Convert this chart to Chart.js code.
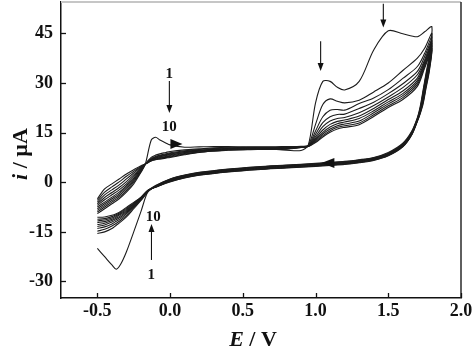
<!doctype html>
<html lang="en">
<head>
<meta charset="utf-8">
<title>Cyclic voltammogram</title>
<script src="https://cdn.jsdelivr.net/npm/chart.js"></script>
<style>
  body { margin: 0; background: #fff; }
  #wrap { width: 474px; height: 350px; }
</style>
</head>
<body>
<div id="wrap"><canvas id="cv" width="474" height="350"></canvas></div>
<script>
// potential grids (V) for the positive-going and negative-going scans
const fwdE = [-0.5, -0.45, -0.4, -0.35, -0.3, -0.25, -0.2, -0.17, -0.13, -0.1, -0.07, -0.03, 0,
  0.1, 0.2, 0.3, 0.4, 0.5, 0.6, 0.7, 0.8, 0.9, 0.95, 1.0, 1.05, 1.1, 1.15, 1.2,
  1.3, 1.4, 1.5, 1.6, 1.7, 1.75, 1.8];
const revE = [1.78, 1.76, 1.74, 1.72, 1.7, 1.66, 1.6, 1.5, 1.4, 1.3, 1.2, 1.1, 1.0, 0.8, 0.6,
  0.4, 0.2, 0.1, 0, -0.1, -0.15, -0.2, -0.25, -0.3, -0.34, -0.37, -0.4, -0.45, -0.5];

// current (uA), cycles 1..10, positive-going scan
const fwd1 = [-9.5, -8, -6.5, -5, -3, -0.5, 3, 5.5, 12.7, 13.6, 12.8, 11.9, 11.3,
  10.6, 10.7, 10.8, 10.8, 10.6, 10.3, 10.0, 9.7, 9.6, 11.2, 24, 30.5, 30.5, 28.7, 27.9,
  30.5, 40, 45.8, 44.9, 44, 45.5, 47];
const fwd2 = [-9, -7.5, -6, -4.5, -2.5, 0, 3.2, 5.5, 7.5, 8.2, 8.6, 9.0, 9.3,
  9.8, 10.1, 10.4, 10.6, 10.7, 10.7, 10.7, 10.8, 10.9, 11.2, 17.5, 23.5, 25.2, 24.5, 24,
  24.8, 27.3, 30, 33.8, 37.5, 40.5, 45];
const fwd3 = [-8.5, -7, -5.5, -4, -2, 0.4, 3.5, 5.5, 7.2, 7.8, 8.2, 8.6, 8.9,
  9.5, 9.9, 10.2, 10.4, 10.5, 10.6, 10.6, 10.7, 10.8, 11.1, 15.5, 19.8, 21.8, 22, 21.8,
  23.8, 25.5, 28, 31.4, 35, 39, 44];
const fwd4 = [-8, -6.5, -5, -3.5, -1.5, 0.8, 3.7, 5.5, 7.0, 7.6, 8.0, 8.4, 8.7,
  9.3, 9.7, 10.0, 10.3, 10.4, 10.5, 10.5, 10.6, 10.8, 11.0, 14.5, 18, 19.8, 20.5, 20.6,
  22.3, 24.2, 26.8, 29.8, 33.5, 38, 43];
const fwd5 = [-7.5, -6, -4.5, -3, -1, 1.2, 4, 5.5, 6.9, 7.4, 7.8, 8.2, 8.5,
  9.2, 9.6, 9.9, 10.2, 10.3, 10.4, 10.4, 10.5, 10.7, 11.0, 13.8, 16.8, 18.5, 19.3, 19.6,
  21, 23.2, 25.8, 28.6, 32.5, 37, 42.5];
const fwd6 = [-7, -5.3, -3.8, -2.3, -0.5, 1.7, 4.2, 5.5, 6.8, 7.3, 7.7, 8.0, 8.3,
  9.0, 9.5, 9.8, 10.1, 10.2, 10.3, 10.3, 10.4, 10.7, 10.9, 13.3, 15.8, 17.5, 18.4, 18.8,
  20, 22.3, 25, 27.6, 31.5, 36.5, 42];
const fwd7 = [-6.5, -4.6, -3.1, -1.6, 0.2, 2.2, 4.4, 5.5, 6.7, 7.2, 7.5, 7.8, 8.1,
  8.9, 9.4, 9.7, 10.0, 10.1, 10.2, 10.2, 10.3, 10.6, 10.9, 12.9, 15.1, 16.7, 17.7, 18.2,
  19.3, 21.6, 24.3, 26.8, 30.8, 36, 41.5];
const fwd8 = [-6, -3.8, -2.3, -0.8, 1, 2.8, 4.6, 5.5, 6.6, 7.0, 7.3, 7.6, 7.9,
  8.7, 9.2, 9.6, 9.9, 10.0, 10.1, 10.1, 10.2, 10.6, 10.9, 12.6, 14.6, 16.1, 17.1, 17.6,
  18.5, 21, 23.7, 26.2, 30.2, 35.5, 41];
const fwd9 = [-5.5, -3, -1.4, 0.1, 1.8, 3.3, 4.8, 5.5, 6.5, 6.9, 7.2, 7.5, 7.7,
  8.5, 9.1, 9.5, 9.8, 9.9, 10.0, 10.0, 10.1, 10.5, 10.8, 12.3, 14.1, 15.6, 16.6, 17.1,
  17.9, 20.4, 23.1, 25.6, 29.6, 35, 40.5];
const fwd10 = [-5, -2, -0.5, 1, 2.5, 3.8, 5, 5.5, 6.4, 6.8, 7.0, 7.3, 7.5,
  8.3, 9.0, 9.4, 9.7, 9.8, 9.9, 9.9, 10.0, 10.5, 10.8, 12.0, 13.7, 15.1, 16.1, 16.6,
  17.4, 19.9, 22.6, 25, 29, 34.5, 40];

// current (uA), cycles 1..10, negative-going scan
const rev1 = [38, 33, 28, 23, 19.5, 15.3, 11.8, 9.0, 7.5, 6.8, 6.3, 6.0, 5.7, 5.2, 4.7,
  4.0, 3.0, 2.2, 1.0, -1.0, -2.6, -8.8, -15, -21, -24.8, -26.3, -25, -22.5, -20];
const rev2 = [37, 32.5, 27.5, 22.5, 19.3, 15.1, 11.6, 8.8, 7.4, 6.7, 6.2, 5.9, 5.6, 5.1, 4.6,
  3.9, 2.9, 2.1, 0.9, -1.1, -2.8, -5.5, -8, -10.5, -12, -13, -14, -15, -15.5];
const rev3 = [36.5, 32, 27, 22.2, 19.1, 14.9, 11.4, 8.7, 7.3, 6.6, 6.1, 5.8, 5.5, 5.0, 4.5,
  3.8, 2.8, 2.0, 0.8, -1.2, -2.7, -5.3, -7.6, -10, -11.5, -12.4, -13.2, -14.2, -14.8];
const rev4 = [36, 31.5, 26.5, 22, 19, 14.8, 11.3, 8.6, 7.2, 6.5, 6.0, 5.7, 5.4, 4.9, 4.4,
  3.7, 2.7, 1.9, 0.7, -1.2, -2.6, -5.1, -7.3, -9.5, -11, -11.8, -12.6, -13.5, -14];
const rev5 = [35.5, 31, 26, 21.8, 18.9, 14.7, 11.2, 8.5, 7.1, 6.4, 5.9, 5.6, 5.3, 4.8, 4.3,
  3.6, 2.6, 1.8, 0.6, -1.3, -2.6, -5, -7.1, -9.1, -10.5, -11.3, -12, -12.9, -13.4];
const rev6 = [35, 30.5, 25.5, 21.6, 18.8, 14.6, 11.1, 8.4, 7.0, 6.3, 5.8, 5.5, 5.2, 4.7, 4.2,
  3.5, 2.5, 1.7, 0.5, -1.3, -2.5, -4.9, -6.9, -8.8, -10.1, -10.9, -11.6, -12.4, -12.8];
const rev7 = [34.5, 30, 25, 21.4, 18.7, 14.5, 11.0, 8.3, 6.9, 6.2, 5.7, 5.4, 5.1, 4.6, 4.1,
  3.4, 2.4, 1.6, 0.4, -1.4, -2.5, -4.8, -6.7, -8.5, -9.7, -10.5, -11.2, -11.9, -12.2];
const rev8 = [34, 29.5, 24.6, 21.2, 18.6, 14.4, 10.9, 8.2, 6.8, 6.1, 5.6, 5.3, 5.0, 4.5, 4.0,
  3.3, 2.3, 1.5, 0.3, -1.4, -2.4, -4.7, -6.5, -8.2, -9.4, -10.1, -10.8, -11.4, -11.7];
const rev9 = [33.5, 29, 24.2, 21, 18.5, 14.3, 10.8, 8.1, 6.7, 6.0, 5.5, 5.2, 4.9, 4.4, 3.9,
  3.2, 2.2, 1.4, 0.2, -1.5, -2.4, -4.6, -6.3, -7.9, -9.1, -9.8, -10.4, -11, -11.2];
const rev10 = [33, 28.5, 23.8, 20.8, 18.4, 14.2, 10.7, 8.0, 6.6, 5.9, 5.4, 5.1, 4.8, 4.3, 3.8,
  3.1, 2.1, 1.3, 0.1, -1.5, -2.3, -4.5, -6.1, -7.6, -8.8, -9.5, -10, -10.5, -10.6];

const fwdI = [fwd1, fwd2, fwd3, fwd4, fwd5, fwd6, fwd7, fwd8, fwd9, fwd10];
const revI = [rev1, rev2, rev3, rev4, rev5, rev6, rev7, rev8, rev9, rev10];

const xTicks = [-0.5, 0.0, 0.5, 1.0, 1.5, 2.0];
const yTicks = [-30, -15, 0, 15, 30, 45];

const serif = "'Liberation Serif', 'Times New Roman', serif";

const datasets = fwdI.map((f, c) => ({
  label: 'cycle ' + (c + 1),
  data: fwdE.map((e, k) => ({ x: e, y: f[k] }))
    .concat(revE.map((e, k) => ({ x: e, y: revI[c][k] }))),
  showLine: true,
  borderColor: '#1c1c1c',
  borderWidth: 1.1,
  pointRadius: 0,
  tension: 0.3
}));

function tri(ctx, x, y, dir, len, half) {
  ctx.beginPath();
  ctx.moveTo(x, y);
  ctx.lineTo(x - dir * len, y - half);
  ctx.lineTo(x - dir * len, y + half);
  ctx.closePath();
  ctx.fill();
}

function vArrow(ctx, xs, ys, e, i0, i1) {
  const x = xs.getPixelForValue(e);
  const y0 = ys.getPixelForValue(i0), y1 = ys.getPixelForValue(i1);
  const dir = y1 > y0 ? 1 : -1;
  ctx.beginPath();
  ctx.moveTo(x, y0);
  ctx.lineTo(x, y1 - dir * 6);
  ctx.stroke();
  ctx.beginPath();
  ctx.moveTo(x, y1);
  ctx.lineTo(x - 3, y1 - dir * 8);
  ctx.lineTo(x + 3, y1 - dir * 8);
  ctx.closePath();
  ctx.fill();
}

const extras = {
  id: 'extras',
  afterDraw(chart) {
    const ctx = chart.ctx, a = chart.chartArea;
    const xs = chart.scales.x, ys = chart.scales.y;
    ctx.save();
    // frame: light top edge, dark right edge
    ctx.strokeStyle = '#c6c6c6';
    ctx.lineWidth = 2;
    ctx.beginPath(); ctx.moveTo(a.left, a.top); ctx.lineTo(a.right, a.top); ctx.stroke();
    ctx.strokeStyle = '#2a2a2a';
    ctx.lineWidth = 1.5;
    ctx.beginPath(); ctx.moveTo(a.right, a.top); ctx.lineTo(a.right, a.bottom); ctx.stroke();

    // inward ticks
    ctx.strokeStyle = '#111';
    ctx.lineWidth = 1.3;
    xTicks.forEach(v => {
      const p = Math.round(xs.getPixelForValue(v)) + 0.5;
      ctx.beginPath(); ctx.moveTo(p, a.bottom); ctx.lineTo(p, a.bottom - 5); ctx.stroke();
    });
    yTicks.forEach(v => {
      const p = Math.round(ys.getPixelForValue(v)) + 0.5;
      ctx.beginPath(); ctx.moveTo(a.left, p); ctx.lineTo(a.left + 5, p); ctx.stroke();
    });

    // scan direction arrowheads on the curves
    ctx.fillStyle = '#111';
    tri(ctx, xs.getPixelForValue(0.085), ys.getPixelForValue(11.6), 1, 12, 5);
    tri(ctx, xs.getPixelForValue(1.04), ys.getPixelForValue(5.8), -1, 13, 5);

    // annotation arrows
    ctx.lineWidth = 1.1;
    vArrow(ctx, xs, ys, -0.005, 30.6, 20.9);
    vArrow(ctx, xs, ys, -0.128, -23.5, -12.6);
    vArrow(ctx, xs, ys, 1.035, 42.6, 33.6);
    vArrow(ctx, xs, ys, 1.466, 54, 46.8);

    // cycle labels
    ctx.font = 'bold 15px ' + serif;
    ctx.textAlign = 'center';
    ctx.textBaseline = 'alphabetic';
    ctx.fillText('1', xs.getPixelForValue(-0.005), ys.getPixelForValue(31.6));
    ctx.fillText('10', xs.getPixelForValue(-0.005), ys.getPixelForValue(15.6));
    ctx.fillText('10', xs.getPixelForValue(-0.115), ys.getPixelForValue(-11.6));
    ctx.fillText('1', xs.getPixelForValue(-0.13), ys.getPixelForValue(-29.2));

    // axis titles
    ctx.textAlign = 'left';
    const f1 = 'italic bold 22px ' + serif, f2 = 'bold 22px ' + serif;
    ctx.font = f1; const wE = ctx.measureText('E').width;
    ctx.font = f2; const wV = ctx.measureText(' / V').width;
    let x0 = 253 - (wE + wV) / 2;
    ctx.font = f1; ctx.fillText('E', x0, 346);
    ctx.font = f2; ctx.fillText(' / V', x0 + wE, 346);

    ctx.translate(27, 154);
    ctx.rotate(-Math.PI / 2);
    ctx.font = f1; const wi = ctx.measureText('i').width;
    ctx.font = f2; const wA = ctx.measureText(' / \u00b5A').width;
    x0 = -(wi + wA) / 2;
    ctx.font = f1; ctx.fillText('i', x0, 0);
    ctx.font = f2; ctx.fillText(' / \u00b5A', x0 + wi, 0);
    ctx.restore();
  }
};

new Chart(document.getElementById('cv'), {
  type: 'scatter',
  data: { datasets: datasets },
  options: {
    responsive: false,
    devicePixelRatio: 1,
    animation: false,
    layout: { padding: { left: 0, top: 2, right: 13, bottom: 0 } },
    plugins: { legend: { display: false }, tooltip: { enabled: false } },
    scales: {
      x: {
        type: 'linear',
        min: -0.75,
        max: 2.0,
        afterBuildTicks: s => { s.ticks = xTicks.map(v => ({ value: v })); },
        afterFit: s => { s.height = 52; s.paddingLeft = 0; s.paddingRight = 0; },
        grid: { display: true, drawOnChartArea: false, drawTicks: false },
        border: { color: '#111', width: 1.5 },
        ticks: {
          color: '#111',
          padding: 3,
          maxRotation: 0,
          font: { family: serif, size: 18, weight: 'bold' },
          callback: v => v.toFixed(1)
        }
      },
      y: {
        type: 'linear',
        min: -35,
        max: 54.5,
        afterBuildTicks: s => { s.ticks = yTicks.map(v => ({ value: v })); },
        afterFit: s => { s.width = 61; s.paddingTop = 0; s.paddingBottom = 0; },
        grid: { display: true, drawOnChartArea: false, drawTicks: false },
        border: { color: '#111', width: 1.5 },
        ticks: {
          color: '#111',
          padding: 8,
          font: { family: serif, size: 18, weight: 'bold' },
          callback: v => String(v)
        }
      }
    }
  },
  plugins: [extras]
});
</script>
</body>
</html>
